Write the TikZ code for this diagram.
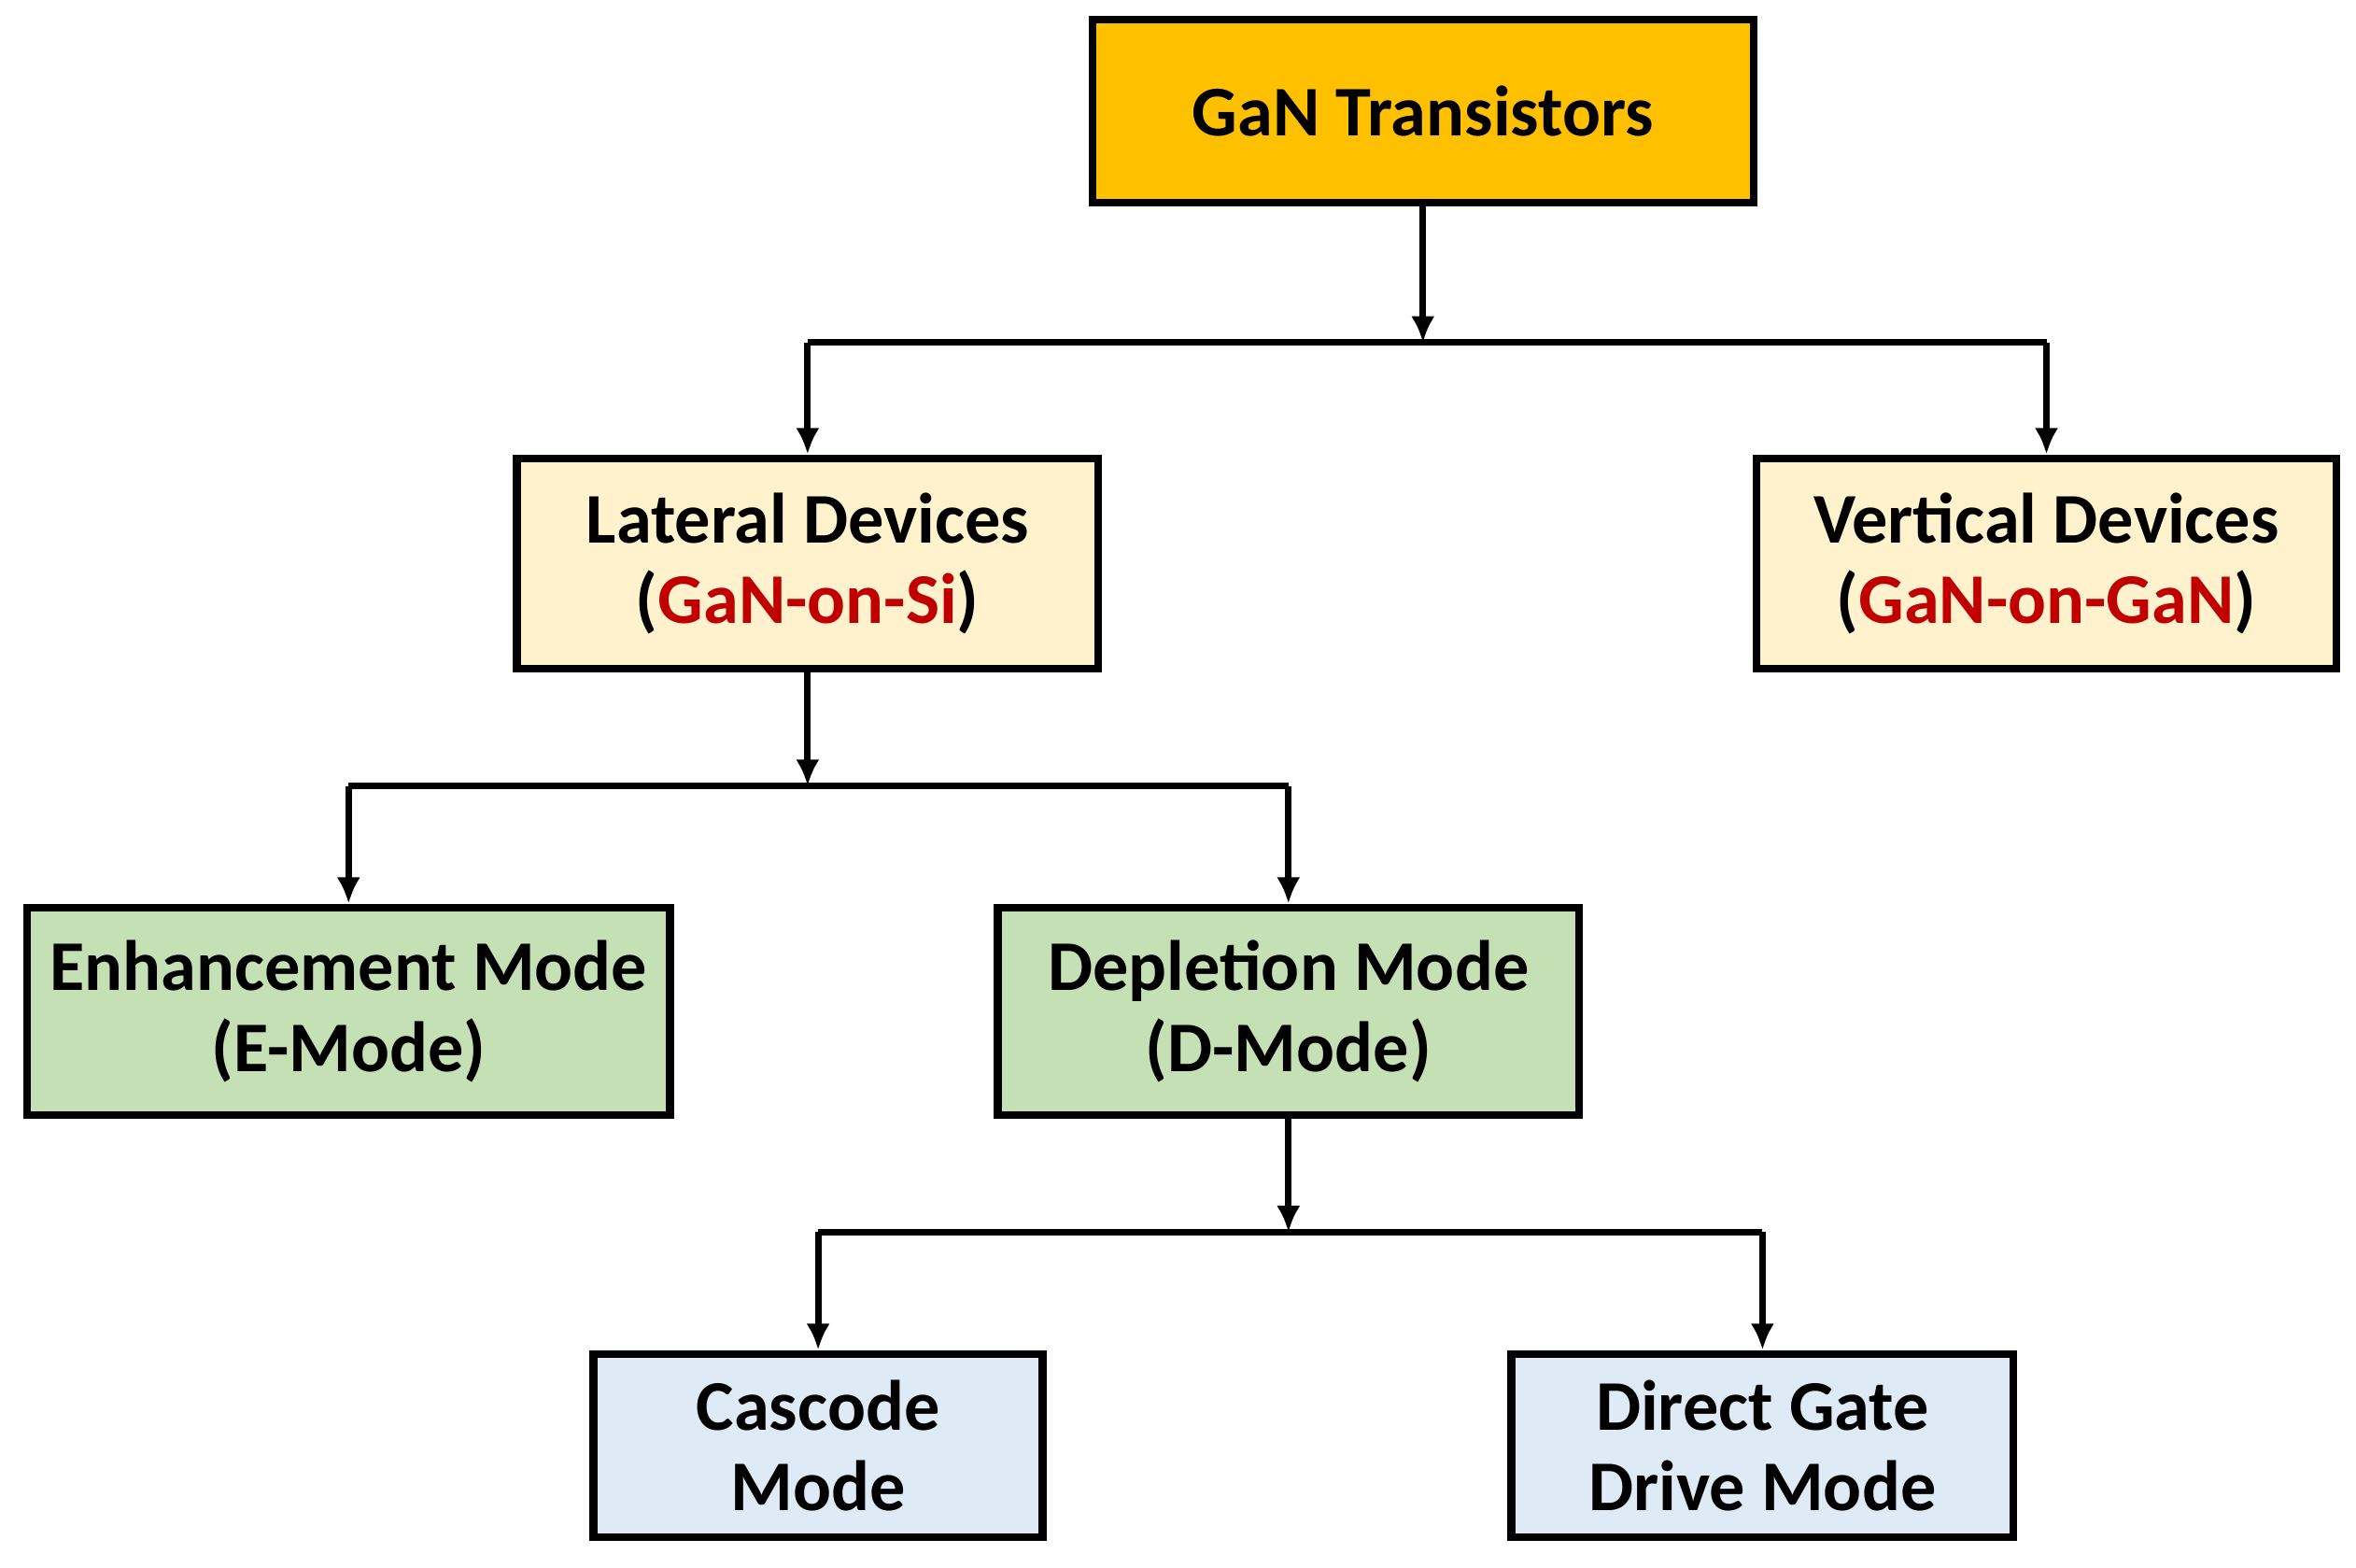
\documentclass[tikz,border=0pt]{standalone}
\usepackage{fontspec}
\setmainfont{Carlito}
\usetikzlibrary{arrows.meta}
\definecolor{org}{HTML}{FFC000}
\definecolor{crm}{HTML}{FFF2CC}
\definecolor{grn}{HTML}{C5E0B4}
\definecolor{blu}{HTML}{DEEBF7}
\definecolor{rd}{HTML}{C00000}
\begin{document}
\begin{tikzpicture}[x=0.1mm,y=-0.1mm,
  box/.style={draw=black,line width=1.5pt,align=center,font=\fontsize{13.5}{15.3}\selectfont\bfseries,inner sep=0pt},
  con/.style={line width=1.2pt,-{Latex[length=5pt,width=4.5pt]}},
  ln/.style={line width=1.2pt}]
\useasboundingbox (0,0) rectangle (1568,1043);
\node[box,fill=org,minimum width=44mm,minimum height=12.2mm] (top) at (947,74) {GaN Transistors};
\node[box,fill=crm,minimum width=38.7mm,minimum height=14mm] (lat) at (537.5,375) {Lateral Devices\\(\textcolor{rd}{GaN-on-Si})};
\node[box,fill=crm,minimum width=38.6mm,minimum height=14mm] (ver) at (1362,375) {Vertical Devices\\(\textcolor{rd}{GaN-on-GaN})};
\node[box,fill=grn,minimum width=42.8mm,minimum height=13.8mm] (enh) at (232,673) {Enhancement Mode\\(E-Mode)};
\node[box,fill=grn,minimum width=38.7mm,minimum height=13.8mm] (dep) at (857.5,673) {Depletion Mode\\(D-Mode)};
\node[box,fill=blu,minimum width=29.9mm,minimum height=12.2mm] (cas) at (544.5,962) {Cascode\\Mode};
\node[box,fill=blu,minimum width=33.4mm,minimum height=12.2mm] (dir) at (1173,962) {Direct Gate\\Drive Mode};
\coordinate (b1) at (947,228); \coordinate (b2) at (537.5,523); \coordinate (b3) at (857.5,820);
\draw[con] (top) -- (b1);
\draw[ln] (lat.north |- b1) -- (ver.north |- b1);
\draw[con] (lat.north |- b1) -- (lat.north);
\draw[con] (ver.north |- b1) -- (ver.north);
\draw[con] (lat) -- (b2);
\draw[ln] (enh.north |- b2) -- (dep.north |- b2);
\draw[con] (enh.north |- b2) -- (enh.north);
\draw[con] (dep.north |- b2) -- (dep.north);
\draw[con] (dep) -- (b3);
\draw[ln] (cas.north |- b3) -- (dir.north |- b3);
\draw[con] (cas.north |- b3) -- (cas.north);
\draw[con] (dir.north |- b3) -- (dir.north);
\end{tikzpicture}
\end{document}
